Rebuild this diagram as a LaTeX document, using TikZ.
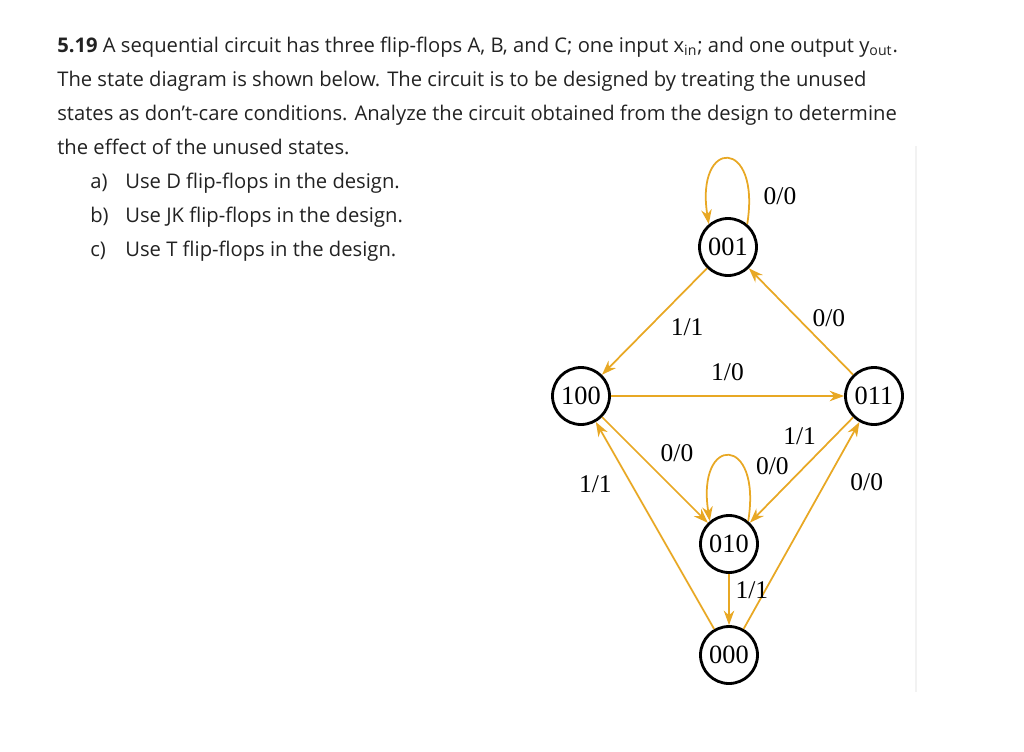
\documentclass[tikz,border=0pt]{standalone}
\usepackage{fontspec}
\setmainfont{Liberation Serif}
\newfontfamily\bodyfont{Open Sans}
\usetikzlibrary{positioning,arrows.meta}
\definecolor{sdorange}{RGB}{232,168,36}
\definecolor{sdtext}{RGB}{34,34,34}
\definecolor{sdrule}{RGB}{242,242,242}

\begin{document}
\begin{tikzpicture}[x=0.02cm, y=-0.02cm,
  state/.style={circle, draw=black, line width=1.6pt, fill=white,
                minimum size=11.4mm, inner sep=0pt, font=\fontsize{15}{18}\selectfont},
  edge/.style={draw=sdorange, line width=1pt, -{Stealth[length=2.9mm, width=2.1mm]}},
  lbl/.style={font=\fontsize{14.5}{17}\selectfont, inner sep=1pt},
  prose/.style={font=\bodyfont\fontsize{11.5}{14}\selectfont, color=sdtext,
                inner sep=0pt, anchor=base west},
  item/.style={prose},
]
\useasboundingbox (0,0) rectangle (1024,751);

% problem text
\node[prose] (l1) at (57,52) {\textbf{5.19} A sequential circuit has three flip-flops A, B, and C; one input x\textsubscript{in}; and one output y\textsubscript{out}.};
\node[prose] (l2) at (57,86) {The state diagram is shown below. The circuit is to be designed by treating the unused};
\node[prose] (l3) at (57,120) {states as don’t-care conditions. Analyze the circuit obtained from the design to determine};
\node[prose] (l4) at (57,154) {the effect of the unused states.};
\node[item] (qa) at (90,188) {\makebox[0.7cm][l]{a)}Use D flip-flops in the design.};
\node[item] (qb) at (90,222) {\makebox[0.7cm][l]{b)}Use JK flip-flops in the design.};
\node[item] (qc) at (90,256) {\makebox[0.7cm][l]{c)}Use T flip-flops in the design.};

% states
\node[state] (n001) at (728,247) {001};
\node[state] (n100) at (581,396) {100};
\node[state] (n011) at (874,396) {011};
\node[state] (n010) at (729,544) {010};
\node[state] (n000) at (729,655) {000};

% transitions
\draw[edge] (n001.50) .. controls +(14,-87) and +(-14,-87) .. node[lbl, pos=0.12, right=2.4mm] {0/0} (n001.130);
\draw[edge] (n001) -- node[lbl, pos=0.55, right=3.8mm] {1/1} (n100);
\draw[edge] (n011) -- node[lbl, pos=0.53, right=2.4mm] {0/0} (n001);
\draw[edge] (n100) -- node[lbl, midway, above=2.6mm] {1/0} (n011);
\draw[edge] (n100) -- node[lbl, pos=0.34, right=4mm] {0/0} (n010);
\draw[edge] (n011) -- node[lbl, pos=0.18, left=3.2mm] {1/1} (n010);
\draw[edge] (n010.50) .. controls +(14,-87) and +(-14,-87) .. node[lbl, pos=0.3, right=2mm] {0/0} (n010.130);
\draw[edge] (n000) -- node[lbl, pos=0.70, left=3.4mm] {1/1} (n100);
\draw[edge] (n000) -- node[lbl, pos=0.71, right=4.4mm] {0/0} (n011);
\draw[edge] (n010) -- node[lbl, pos=0.32, right=0.8mm] {1/1} (n000);

% edge of the pasted figure
\draw[sdrule, line width=0.6pt] (916,146) -- (916,692);
\end{tikzpicture}
\end{document}
